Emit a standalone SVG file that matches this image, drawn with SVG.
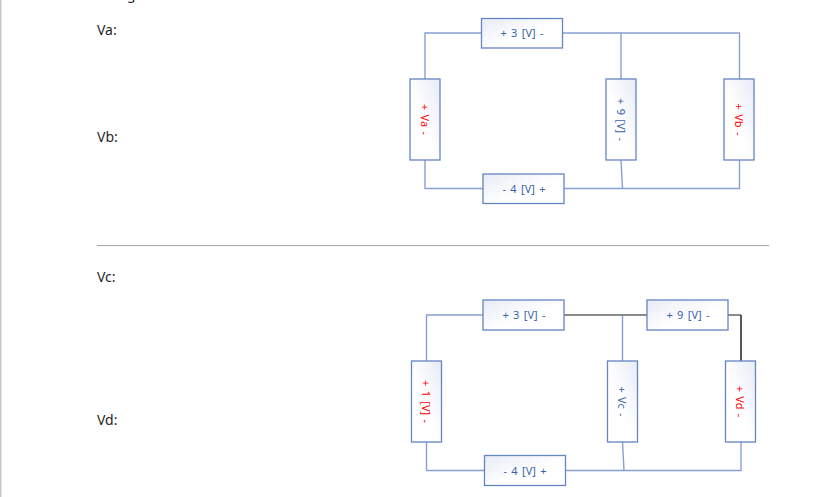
<svg xmlns="http://www.w3.org/2000/svg" width="816" height="497" viewBox="0 0 816 497">
<defs>
<linearGradient id="g" x1="0" y1="0" x2="1" y2="1"><stop offset="0" stop-color="#e8ebf6"/><stop offset="0.55" stop-color="#ffffff"/><stop offset="1" stop-color="#ffffff"/></linearGradient>
<linearGradient id="gv" x1="1" y1="0" x2="0" y2="1"><stop offset="0" stop-color="#e8ebf6"/><stop offset="0.55" stop-color="#ffffff"/><stop offset="1" stop-color="#ffffff"/></linearGradient>
</defs>
<style>
text{font-family:"Noto Sans","Open Sans","Liberation Sans",sans-serif}
.lbl{font-size:14px;fill:#1f1f1f}
.t{font-size:11px;word-spacing:1.5px;text-anchor:middle;dominant-baseline:central;fill:#3a64ad}
.r{fill:#ff0000}
.b{fill:url(#g);stroke:#6485c3;stroke-width:1.3}
.bv{fill:url(#gv);stroke:#6485c3;stroke-width:1.3}
.w{fill:none;stroke:#86a0d2;stroke-width:1.4}
.k{fill:none;stroke-width:1.5}
</style>
<rect x="0" y="0" width="1.5" height="497" fill="#c8c8c8"/>
<text class="lbl" x="127" y="-1">g</text>
<text class="lbl" x="97" y="35">Va:</text>
<text class="lbl" x="97" y="142">Vb:</text>
<text class="lbl" x="97" y="282">Vc:</text>
<text class="lbl" x="97" y="425">Vd:</text>
<line x1="97" y1="245.500" x2="769" y2="245.500" stroke="#a6a6a6" stroke-width="1"/>
<g id="connectors">
<path class="w" d="M482 33H425V79M425 160V188.500H483M564 188.500H739.500V160M739.500 79V33H563M621 33V79M621 160L622.500 188.500"/>
<path class="w" d="M483 315H426.500V361M426.500 442V470.500H485M566 470.500H741V442M622.500 315V361M622.500 442L624 470.500"/>
<path class="k" stroke="#666666" d="M564 315H647M728 315H741"/>
<path class="k" stroke="#222222" d="M741 315V361"/>
</g>
<g id="n-top3"><rect class="b" x="481.500" y="18.500" width="81" height="29.500"/><text class="t" x="522" y="32">+ 3 [V] -</text></g>
<g id="n-va"><rect class="bv" x="410" y="79" width="30" height="81"/><text class="t r" transform="translate(425 119.500) rotate(90)">+ Va -</text></g>
<g id="n-mid9"><rect class="bv" x="606" y="79" width="30" height="81"/><text class="t" transform="translate(621 119.500) rotate(90)">+ 9 [V] -</text></g>
<g id="n-vb"><rect class="bv" x="724" y="79" width="30" height="81"/><text class="t r" transform="translate(739 119.500) rotate(90)">+ Vb -</text></g>
<g id="n-bot4"><rect class="b" x="483" y="174" width="81" height="29.500"/><text class="t" x="524" y="188">- 4 [V] +</text></g>
<g id="n-top3b"><rect class="b" x="483" y="300" width="81" height="30"/><text class="t" x="524" y="314">+ 3 [V] -</text></g>
<g id="n-top9"><rect class="b" x="647" y="300" width="81" height="30"/><text class="t" x="688" y="314">+ 9 [V] -</text></g>
<g id="n-one"><rect class="bv" x="411.500" y="361" width="30" height="81"/><text class="t r" transform="translate(426.500 401.500) rotate(90)">+ 1 [V] -</text></g>
<g id="n-vc"><rect class="bv" x="607.500" y="361" width="30" height="81"/><text class="t" transform="translate(622.500 401.500) rotate(90)">+ Vc -</text></g>
<g id="n-vd"><rect class="bv" x="725.500" y="361" width="30" height="81"/><text class="t r" transform="translate(740.500 401.500) rotate(90)">+ Vd -</text></g>
<g id="n-bot4b"><rect class="b" x="484.500" y="455.500" width="81" height="30"/><text class="t" x="525" y="470">- 4 [V] +</text></g>
</svg>
